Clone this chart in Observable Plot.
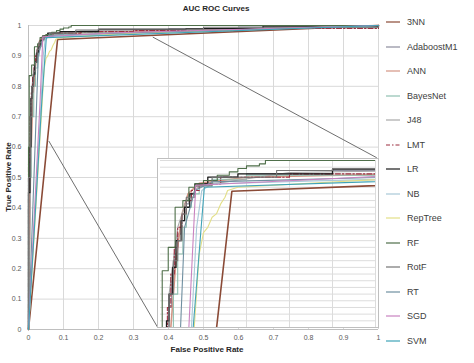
<!DOCTYPE html>
<html><head><meta charset="utf-8">
<script src="https://cdn.jsdelivr.net/npm/d3@7"></script>
<script src="https://cdn.jsdelivr.net/npm/@observablehq/plot@0.6"></script>
<style>
body{margin:0;background:#fff;font-family:"Liberation Sans",Arial,sans-serif;}
#wrap{position:relative;width:474px;height:363px;overflow:hidden;background:#fff;}
#wrap>svg{position:absolute;left:0;top:0;}
#wrap>svg.inset{left:158px;top:159px;outline:1px solid #bfbfbf;}
.t{position:absolute;font-weight:bold;color:#262626;white-space:nowrap;}
.lg{position:absolute;left:384px;height:12px;font-size:9px;color:#404040;white-space:nowrap;line-height:12px;}
.lg svg{position:absolute;left:0;top:0;}
.lg span{position:absolute;left:23px;top:0;}
</style></head><body>
<div id="wrap"></div>
<script>
// ---- data ----
const names = ["3NN","AdaboostM1","ANN","BayesNet","J48","LMT","LR","NB","RepTree","RF","RotF","RT","SGD","SVM"];
const colors = ["#8a4a36","#8c8c9c","#d49484","#8fc0b0","#a8a8a8","#9b2d3f","#1a1a1a","#a8c8d8","#e3df88","#4f6f4a","#767676","#6f8fa0","#c983c0","#3fa3b8"];
const curveTypes = ["linear","step-after","linear","step-after","linear","step-after","step-after","linear","linear","step-after","step-after","linear","linear","linear"];

const s3NN = [[0,0],[0.083,0.954],[1,1]];
const sAdaboostM1 = [[0,0],[0,0.4],[0.003,0.55],[0.006,0.7],[0.01,0.78],[0.013,0.82],[0.016,0.86],[0.02,0.89],[0.024,0.91],[0.028,0.935],[0.033,0.95],[0.04,0.962],[0.05,0.97],[0.07,0.975],[0.1,0.98],[0.2,0.985],[0.4,0.99],[0.6,0.995],[1,1]];
const sANN = [[0,0],[0.005,0.5],[0.012,0.75],[0.018,0.85],[0.025,0.92],[0.032,0.95],[0.045,0.966],[0.1,0.975],[0.25,0.979],[1,1]];
const sBayesNet = [[0,0],[0,0.5],[0.008,0.7],[0.015,0.8],[0.02,0.86],[0.026,0.9],[0.03,0.93],[0.036,0.95],[0.045,0.965],[0.06,0.972],[0.1,0.978],[0.3,0.985],[0.6,0.993],[1,1]];
const sJ48 = [[0,0],[0.01,0.8],[0.02,0.9],[0.03,0.94],[0.045,0.962],[0.15,0.982],[1,1]];
const sLMT = [[0,0],[0,0.55],[0.004,0.7],[0.008,0.78],[0.012,0.83],[0.016,0.87],[0.02,0.9],[0.025,0.92],[0.03,0.94],[0.036,0.955],[0.045,0.965],[0.07,0.975],[0.15,0.98],[0.3,0.983],[0.6,0.99],[1,1]];
const sLR = [[0,0],[0,0.45],[0.004,0.6],[0.007,0.76],[0.01,0.8],[0.014,0.84],[0.018,0.88],[0.024,0.91],[0.028,0.93],[0.034,0.95],[0.04,0.965],[0.055,0.975],[0.09,0.98],[0.2,0.987],[0.45,0.99],[0.67,0.998],[1,1]];
const sNB = [[0,0],[0.036,0.75],[0.042,0.9],[0.048,0.955],[0.06,0.965],[0.25,0.972],[1,1]];
const sRepTree = [[0,0],[0.045,0.86],[0.05,0.892],[0.055,0.9],[0.06,0.915],[0.065,0.92],[0.07,0.935],[0.075,0.945],[0.078,0.955],[0.09,0.96],[0.3,0.975],[1,1]];
const sRF = [[0,0],[0,0.6],[0.002,0.75],[0.002,0.835],[0.009,0.87],[0.017,0.9],[0.017,0.93],[0.026,0.94],[0.033,0.96],[0.04,0.965],[0.05,0.97],[0.066,0.978],[0.08,0.983],[0.09,0.988],[0.1,0.992],[0.115,0.995],[0.122,1],[1,1]];
const sRotF = [[0,0],[0,0.5],[0.005,0.7],[0.01,0.8],[0.015,0.85],[0.02,0.88],[0.025,0.92],[0.03,0.945],[0.04,0.962],[0.06,0.975],[0.135,0.985],[0.2,0.988],[0.5,0.994],[1,1]];
const sRT = [[0,0],[0.028,0.9],[0.04,0.955],[0.06,0.968],[1,1]];
const sSGD = [[0,0],[0.033,0.75],[0.041,0.963],[0.25,0.976],[1,1]];
const sSVM = [[0,0],[0.038,0.75],[0.051,0.96],[1,1]];
const seriesPoints = [s3NN,sAdaboostM1,sANN,sBayesNet,sJ48,sLMT,sLR,sNB,sRepTree,sRF,sRotF,sRT,sSGD,sSVM];

const xTicks = [0,0.1,0.2,0.3,0.4,0.5,0.6,0.7,0.8,0.9,1];
const xTickLabels = ["0","0.1","0.2","0.3","0.4","0.5","0.6","0.7","0.8","0.9","1"];
const yTicks = [0,0.1,0.2,0.3,0.4,0.5,0.6,0.7,0.8,0.9,1];
const yTickLabels = ["0","0.1","0.2","0.3","0.4","0.5","0.6","0.7","0.8","0.9","1"];
const insetXDomain = [0,0.25];
const insetYDomain = [0.75,1];
const insetXTicks = [0.05,0.1,0.15,0.2,0.25];
const insetYTicks = d3.range(76,101).map(d=>d/100);
const connectors = [
  {x1:0.355,y1:0.962,x2:0.995,y2:0.565},
  {x1:0.058,y1:0.62,x2:0.369,y2:0.007}
];
const titleText = "AUC ROC Curves";
const xTitle = "False Positive Rate";
const yTitle = "True Positive Rate";

// ---- build ----
const wrap = document.getElementById("wrap");
const rows = seriesPoints.map((pts,i)=>pts.map(([x,y])=>({name:names[i],x,y})));
const widthOf = n => (n==="3NN"||n==="ANN") ? 1.6 : (n==="LR" ? 1.3 : 1.1);
const lineMarks = (clip)=>rows.map((r,i)=>Plot.line(r,{
  x:"x",y:"y",stroke:colors[i],strokeWidth:widthOf(names[i]),
  curve:curveTypes[i],clip,
  strokeDasharray: names[i]==="LMT" ? "5,2,1.5,2" : null
}));

const main = Plot.plot({
  width:474,height:363,marginLeft:28,marginRight:96,marginTop:25,marginBottom:34,
  x:{domain:[0,1]},y:{domain:[0,1]},
  style:{fontFamily:"Liberation Sans, Arial, sans-serif",fontSize:"7px",background:"transparent",overflow:"visible"},
  marks:[
    Plot.gridX(xTicks,{stroke:"#d9d9d9",strokeOpacity:1}),
    Plot.gridY(yTicks,{stroke:"#d9d9d9",strokeOpacity:1}),
    Plot.ruleX([0],{stroke:"#bfbfbf"}),
    Plot.ruleY([0],{stroke:"#bfbfbf"}),
    Plot.axisX(xTicks,{tickSize:0,tickPadding:6,label:null,fill:"#595959",tickFormat:d=>xTickLabels[xTicks.indexOf(d)]}),
    Plot.axisY(yTicks,{tickSize:0,tickPadding:7,label:null,fill:"#595959",tickFormat:d=>yTickLabels[yTicks.indexOf(d)]}),
    ...lineMarks(false),
    Plot.link(connectors,{x1:"x1",y1:"y1",x2:"x2",y2:"y2",stroke:"#6f6f6f",strokeWidth:1})
  ]
});
wrap.appendChild(main);

const inset = Plot.plot({
  width:220,height:168,marginLeft:2,marginRight:3,marginTop:1,marginBottom:0,
  x:{domain:insetXDomain,axis:null},y:{domain:insetYDomain,axis:null},
  style:{background:"#fff"},
  marks:[
    Plot.gridY(insetYTicks,{stroke:"#dcdcdc",strokeOpacity:1}),
    Plot.gridX(insetXTicks,{stroke:"#dcdcdc",strokeOpacity:1}),
    ...lineMarks(true)
  ]
});
inset.classList.add("inset");
wrap.appendChild(inset);

function addText(txt, css){
  const d=document.createElement("div");d.className="t";d.textContent=txt;
  Object.assign(d.style,css);wrap.appendChild(d);return d;
}
addText(titleText,{left:"216px",top:"4px",fontSize:"8px",transform:"translateX(-50%)"});
addText(xTitle,{left:"207px",top:"345px",fontSize:"8px",transform:"translateX(-50%)"});
addText(yTitle,{left:"8px",top:"177px",fontSize:"8px",transform:"translate(-50%,-50%) rotate(-90deg)"});

names.forEach((n,i)=>{
  const d=document.createElement("div");d.className="lg";
  d.style.top=(16+i*24.5)+"px";
  const dash = n==="LMT" ? 'stroke-dasharray="4,2,1.5,2"' : "";
  d.innerHTML=`<svg width="18" height="12"><line x1="2" x2="16" y1="6" y2="6" stroke="${colors[i]}" stroke-width="1.2" ${dash}/></svg><span></span>`;
  d.querySelector("span").textContent=n;
  wrap.appendChild(d);
});
</script>
</body></html>
